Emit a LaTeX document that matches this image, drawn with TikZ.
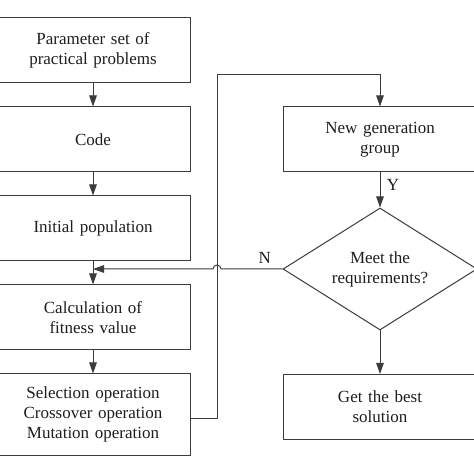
\documentclass[tikz,border=0pt]{standalone}
\usepackage{fontspec}
\setmainfont{Liberation Serif}
\usetikzlibrary{shapes.geometric,arrows.meta}

\definecolor{stroke}{HTML}{3C3C3C}
\definecolor{ink}{HTML}{1E1E1E}

\begin{document}
\begin{tikzpicture}[x=1bp, y=1bp,
    box/.style={draw=stroke, line width=1bp, minimum width=194bp,
        minimum height=65bp, text width=180bp, align=center, inner sep=0pt,
        text=ink, font=\fontsize{17bp}{20bp}\selectfont},
    decision/.style={diamond, draw=stroke, line width=1bp, aspect=1.59,
        minimum width=194bp, minimum height=122bp, inner sep=0pt,
        align=center, text=ink, font=\fontsize{17bp}{20bp}\selectfont},
    arr/.style={draw=stroke, line width=1bp,
        -{Triangle[length=11bp,width=7.5bp]}},
    lbl/.style={text=ink, font=\fontsize{17bp}{20bp}\selectfont}]

% ---- Frame (the figure is cut at its sides) ----
\useasboundingbox (0,0) rectangle (474,474);
\fill[white] (0,0) rectangle (474,474);
\clip (0,0) rectangle (474,474);

% ---- Main column ----
\node[box] (param) at (93,423.5) {Parameter set of\\practical problems};
\node[box] (code) at (93,334.5) {Code};
\node[box] (init) at (93,245.5) {Initial population};
\node[box] (fitness) at (93,156.5) {Calculation of\\fitness value};
\node[box, minimum height=81bp] (ops) at (93,59.5)
    {Selection operation\\Crossover operation\\Mutation operation};

% ---- Right column ----
\node[box] (newgen) at (380,334.5) {New generation\\group};
\node[decision] (meet) at (380,205) {Meet the\\requirements?};
\node[box] (best) at (380,67) {Get the best\\solution};

% Straight links
\draw[arr] (param) -- (code);
\draw[arr] (code) -- (init);
\draw[arr] (init) -- (fitness);
\draw[arr] (fitness) -- (ops);
\draw[arr] (newgen) -- node[lbl, right=3bp, pos=0.35] {Y} (meet);
\draw[arr] (meet) -- (best);

% ---- Loop back to the new generation ----
\coordinate (looptop) at (217,399);
\draw[arr] ([yshift=-4.5bp]ops.east) -| (looptop) -| (newgen.north);

% ---- "N" branch, hopping over the loop line ----
\coordinate (hop) at (221,205);
\draw[arr] (meet.west) -- node[lbl, above=2bp, pos=0.29] {N} (hop)
    arc[start angle=0, end angle=180, radius=4bp]
    -- (init.south |- meet.west);

\end{tikzpicture}
\end{document}
